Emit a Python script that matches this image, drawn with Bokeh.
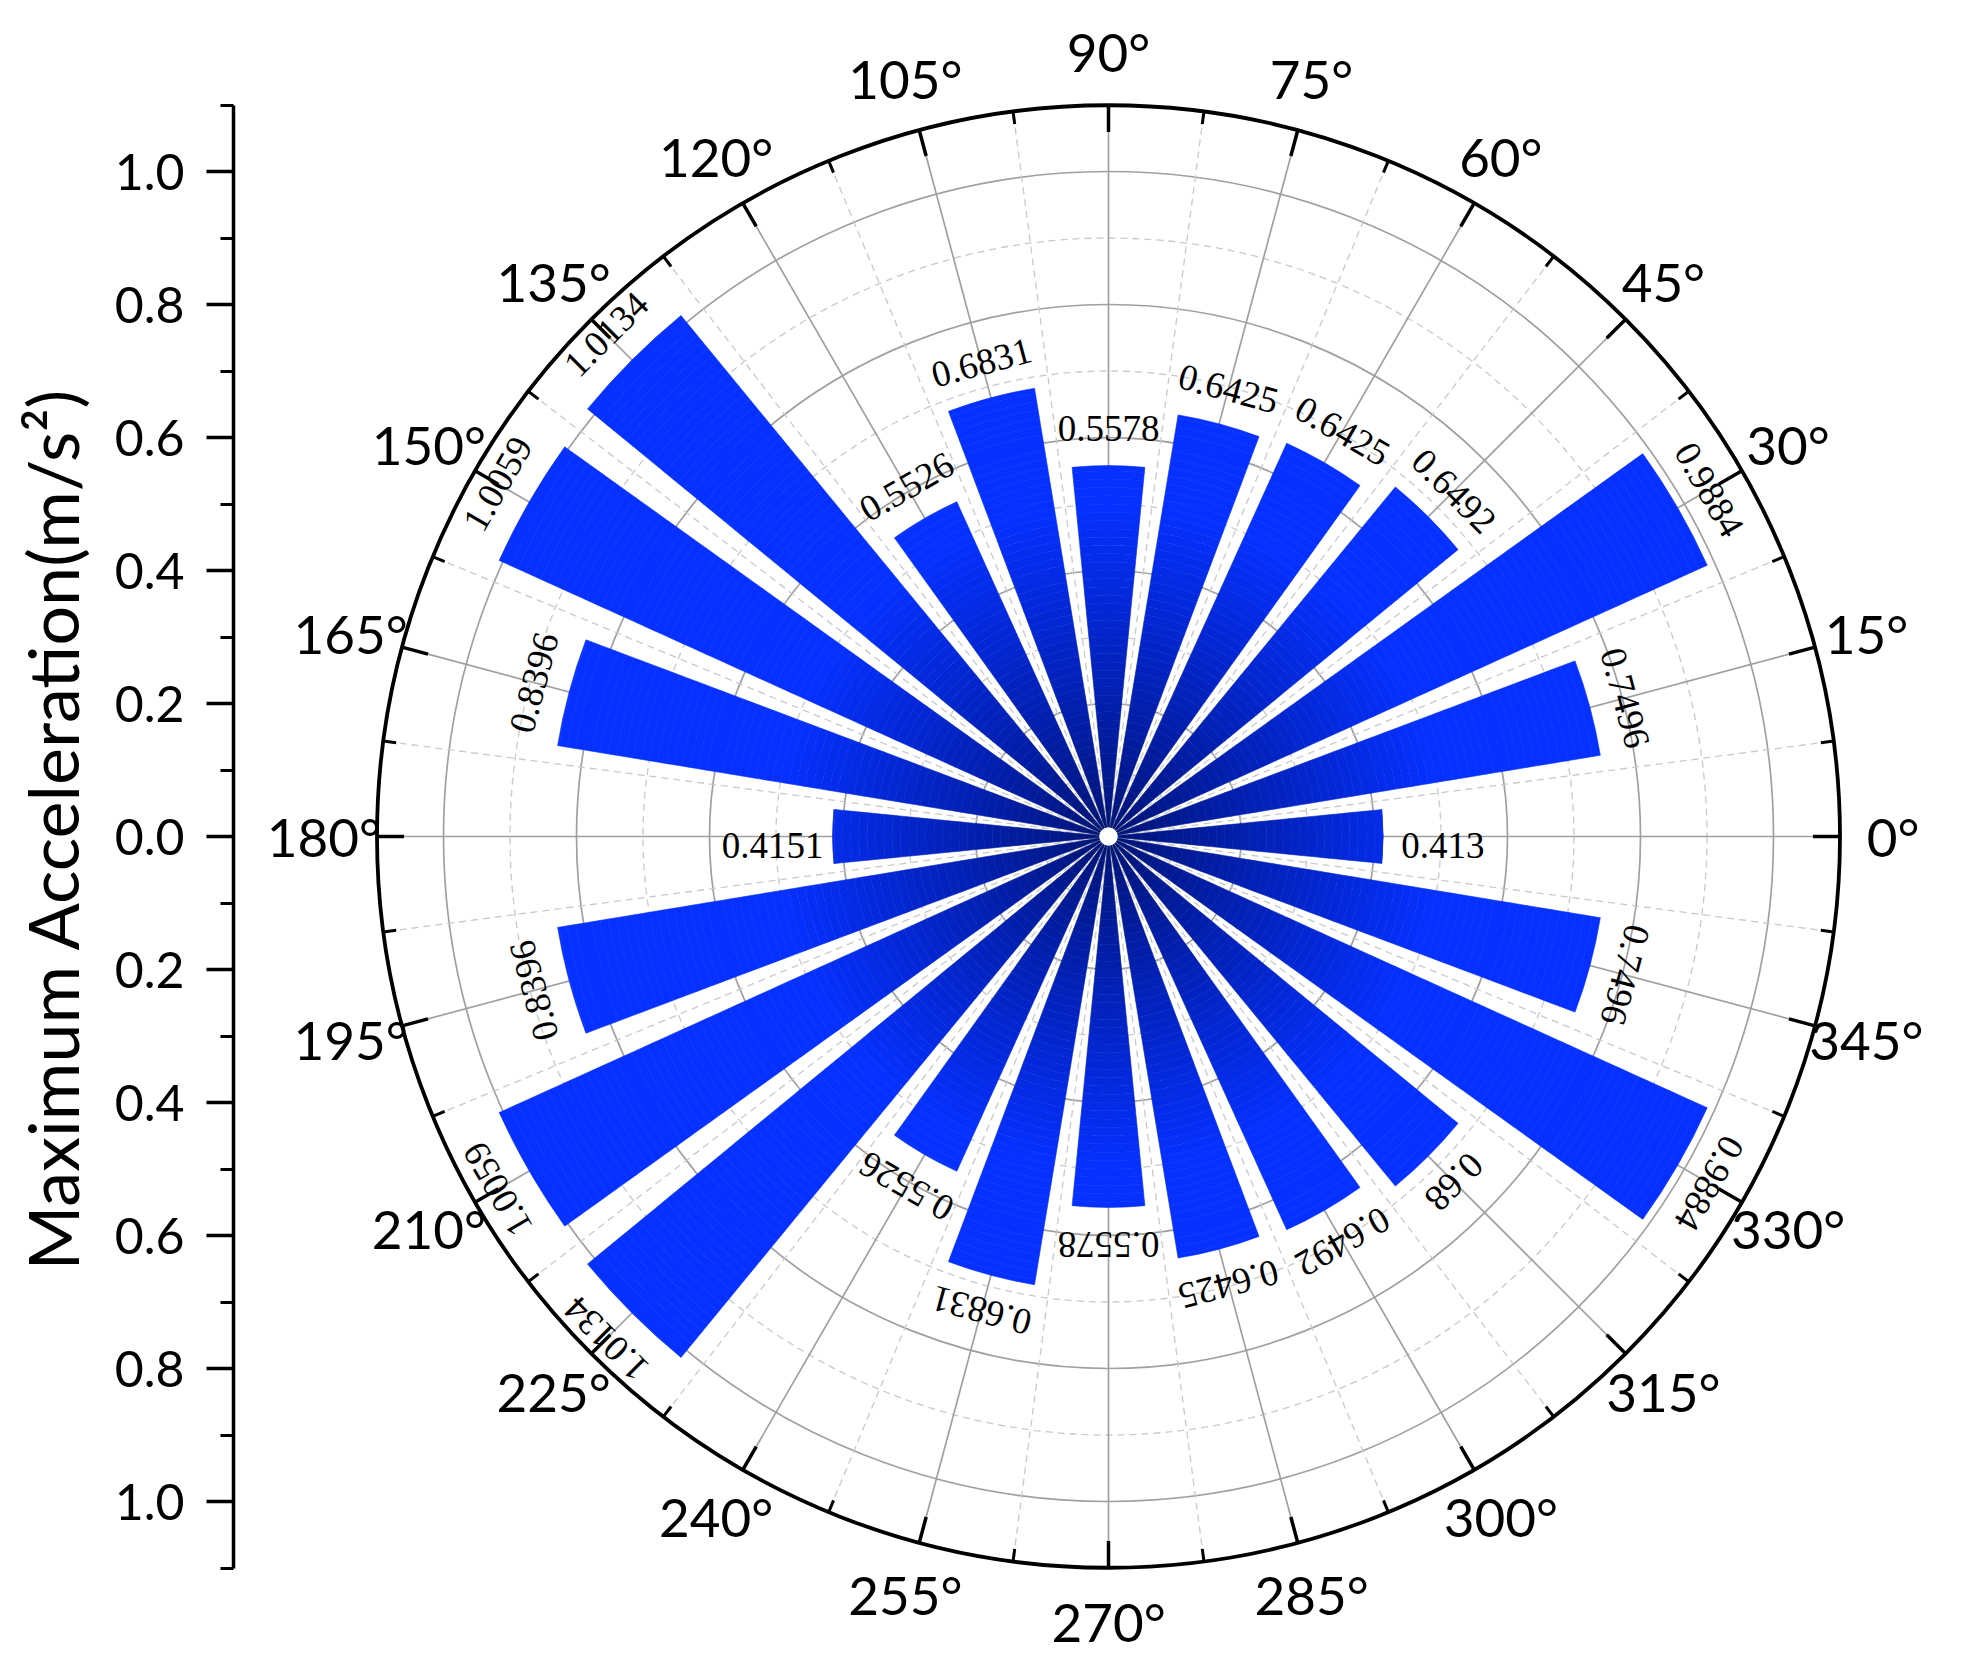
import numpy as np
from bokeh.plotting import figure
from bokeh.models import (LinearAxis, FixedTicker, CustomJSTickFormatter,
                          Range1d, ColumnDataSource)
from bokeh.embed import file_html
from bokeh.resources import INLINE
from bokeh.core.properties import value

# ---------------- data ----------------
angles_deg = [0, 15, 30, 45, 60, 75, 90, 105, 120, 135, 150, 165,
              180, 195, 210, 225, 240, 255, 270, 285, 300, 315, 330, 345]
accel = [0.413, 0.7496, 0.9884, 0.68, 0.6492, 0.6425, 0.5578, 0.6831,
         0.5526, 1.0134, 1.0059, 0.8396, 0.4151, 0.8396, 1.0059, 1.0134,
         0.5526, 0.6831, 0.5578, 0.6425, 0.6492, 0.68, 0.9884, 0.7496]
value_labels = ["0.413", "0.7496", "0.9884", "0.6492", "0.6425", "0.6425",
                "0.5578", "0.6831", "0.5526", "1.0134", "1.0059", "0.8396",
                "0.4151", "0.8396", "1.0059", "1.0134", "0.5526", "0.6831",
                "0.5578", "0.6425", "0.6492", "0.68", "0.9884", "0.7496"]
angle_tick_labels = ["0°", "15°", "30°", "45°", "60°", "75°", "90°", "105°",
                     "120°", "135°", "150°", "165°", "180°", "195°", "210°",
                     "225°", "240°", "255°", "270°", "285°", "300°", "315°",
                     "330°", "345°"]
radial_major = [0.2, 0.4, 0.6, 0.8, 1.0]
radial_minor = [0.1, 0.3, 0.5, 0.7, 0.9]
axis_major_ticks = [-1.0, -0.8, -0.6, -0.4, -0.2, 0.0, 0.2, 0.4, 0.6, 0.8, 1.0]
axis_minor_ticks = [-1.1, -0.9, -0.7, -0.5, -0.3, -0.1, 0.1, 0.3, 0.5, 0.7, 0.9, 1.1]
R_MAX = 1.1

# ---------------- layout ----------------
PX = 665.0                 # pixels per data unit
W, H = 1957, 1657
LEFT = 233
CX = 1108 - LEFT           # centre in frame px
CY = 836
x_range = Range1d(-CX / PX, (W - LEFT - CX) / PX)
y_range = Range1d(-(H - CY) / PX, CY / PX)

p = figure(width=W, height=H, x_range=x_range, y_range=y_range,
           x_axis_type=None, y_axis_type=None,
           output_backend="svg", toolbar_location=None,
           min_border=0, min_border_left=LEFT,
           outline_line_color=None, background_fill_color="white",
           border_fill_color="white")

GRID = "#a0a0a0"
GRID_D = "#c9c9c9"

# radial circles
p.circle(x=[0] * len(radial_minor), y=[0] * len(radial_minor), radius=radial_minor,
         fill_color=None, line_color=GRID_D, line_width=1.3, line_dash="7 5")
p.circle(x=[0] * len(radial_major), y=[0] * len(radial_major), radius=radial_major,
         fill_color=None, line_color=GRID, line_width=1.7)

# angular grid lines
maj = np.deg2rad(np.array(angles_deg, dtype=float))
mnr = maj + np.deg2rad(7.5)
p.segment(x0=np.zeros(len(mnr)), y0=np.zeros(len(mnr)),
          x1=R_MAX * np.cos(mnr), y1=R_MAX * np.sin(mnr),
          line_color=GRID_D, line_width=1.3, line_dash="7 5")
p.segment(x0=np.zeros(len(maj)), y0=np.zeros(len(maj)),
          x1=R_MAX * np.cos(maj), y1=R_MAX * np.sin(maj),
          line_color=GRID, line_width=1.7)

# ---------------- gradient bars (radial gradient from the origin) ----------------
STEP = 0.0125
half = np.deg2rad(11.25) / 2
c0 = np.array([0, 18, 110], dtype=float)
c1 = np.array([5, 48, 255], dtype=float)
inner, outer, start, end, colors = [], [], [], [], []
for a, v in zip(angles_deg, accel):
    th = np.deg2rad(a)
    edges = list(np.arange(0.0, v, STEP)) + [v]
    for r0, r1 in zip(edges[:-1], edges[1:]):
        inner.append(r0)
        outer.append(r1)
        start.append(th - half)
        end.append(th + half)
        t = min(((r0 + r1) / 2 / 0.5), 1.0) ** 0.9
        c = c0 + (c1 - c0) * t
        colors.append("#%02x%02x%02x" % tuple(int(round(x)) for x in c))
bars = ColumnDataSource(dict(x=[0] * len(inner), y=[0] * len(inner), inner=inner,
                             outer=outer, start=start, end=end, color=colors))
p.annular_wedge(x="x", y="y", inner_radius="inner", outer_radius="outer",
                start_angle="start", end_angle="end", fill_color="color",
                line_color="color", line_width=0.6, source=bars)

# centre white dot
p.circle(x=[0], y=[0], radius=0.014, fill_color="white", line_color=None)

# ---------------- outer circle and ticks ----------------
p.circle(x=[0], y=[0], radius=R_MAX, fill_color=None, line_color="black",
         line_width=3.8)
tmaj = 27 / PX
tmin = 13 / PX
p.segment(x0=(R_MAX - tmaj) * np.cos(maj), y0=(R_MAX - tmaj) * np.sin(maj),
          x1=R_MAX * np.cos(maj), y1=R_MAX * np.sin(maj),
          line_color="black", line_width=3.5)
p.segment(x0=(R_MAX - tmin) * np.cos(mnr), y0=(R_MAX - tmin) * np.sin(mnr),
          x1=R_MAX * np.cos(mnr), y1=R_MAX * np.sin(mnr),
          line_color="black", line_width=3)

# angle labels
RL = 1.18
p.text(x=RL * np.cos(maj), y=RL * np.sin(maj), text=angle_tick_labels,
       text_align="center", text_baseline="middle",
       text_font=value("Lato"), text_font_size="53px", text_color="black")

# ---------------- value labels ----------------
off = 0.055
rot_x, rot_y, rot_t, rot_a = [], [], [], []
hor_x, hor_y, hor_t, hor_al = [], [], [], []
for a, v, s in zip(angles_deg, accel, value_labels):
    th = np.deg2rad(a)
    if a == 0:
        hor_x.append(v + 18 / PX); hor_y.append(-9 / PX); hor_t.append(s); hor_al.append("left")
    elif a == 180:
        hor_x.append(-(v + 9 / PX)); hor_y.append(-9 / PX); hor_t.append(s); hor_al.append("right")
    else:
        r = v + off
        rot_x.append(r * np.cos(th)); rot_y.append(r * np.sin(th))
        rot_t.append(s); rot_a.append(th - np.pi / 2)
p.text(x=rot_x, y=rot_y, text=rot_t, angle=rot_a, text_align="center",
       text_baseline="middle", text_font=value("Liberation Serif"),
       text_font_size="37px", text_color="black")
p.text(x=hor_x, y=hor_y, text=hor_t, text_align=hor_al,
       text_baseline="middle", text_font=value("Liberation Serif"),
       text_font_size="37px", text_color="black")

# ---------------- left radial axis ----------------
ax = LinearAxis(ticker=FixedTicker(ticks=axis_major_ticks, minor_ticks=axis_minor_ticks),
                formatter=CustomJSTickFormatter(code="return Math.abs(tick).toFixed(1);"),
                bounds=(-R_MAX, R_MAX),
                axis_label="Maximum Acceleration(m/s²)")
ax.axis_line_width = 3.5
ax.axis_line_color = "black"
ax.major_tick_out = 27
ax.major_tick_in = 0
ax.minor_tick_out = 13
ax.minor_tick_in = 0
ax.major_tick_line_width = 3.5
ax.minor_tick_line_width = 3
ax.major_label_text_font = "Lato"
ax.major_label_text_font_size = "50px"
ax.major_label_text_color = "black"
ax.major_label_standoff = 22
ax.axis_label_text_font = "Lato"
ax.axis_label_text_font_size = "70px"
ax.axis_label_text_font_style = "normal"
ax.axis_label_text_color = "black"
ax.axis_label_standoff = 18
p.add_layout(ax, "left")

open("out.html", "w").write(file_html(p, INLINE))
